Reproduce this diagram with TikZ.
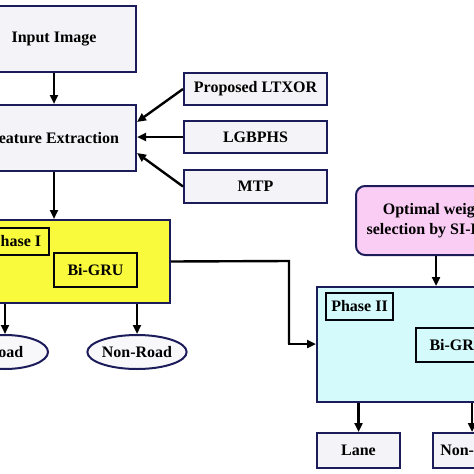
\documentclass[tikz,border=0pt]{standalone}
\usepackage{fontspec}
\setmainfont{Liberation Serif}
\usetikzlibrary{arrows.meta,shapes.geometric}
\definecolor{navy}{RGB}{28,28,90}
\definecolor{boxfill}{RGB}{243,243,248}
\definecolor{yel}{RGB}{250,250,60}
\definecolor{cyanfill}{RGB}{212,250,252}
\definecolor{pinkfill}{RGB}{250,205,245}
\tikzset{
  x=1pt,y=1pt,
  every node/.style={font=\fontsize{16}{18}\selectfont\bfseries, inner sep=0pt},
  plainbox/.style={draw=navy, line width=2pt, fill=boxfill, minimum width=#1, rectangle},
  labelbox/.style={draw=black!85!navy, line width=2.2pt, minimum height=27pt, rectangle},
  oval/.style={ellipse, draw=navy, line width=2pt, fill=boxfill!60!white, minimum width=#1, minimum height=34pt},
  conn/.style={draw=black, line width=2.4pt, -{Triangle[length=9pt,width=8pt]}},
  plainline/.style={draw=black, line width=2.4pt},
}
\begin{document}
\begin{tikzpicture}
\useasboundingbox (0,0) rectangle (474,-474);
\begin{scope}
\clip (0,0) rectangle (474,-474);
% top column
\node[plainbox=164pt, minimum height=66pt] (input) at (54,-39) {Input Image};
\node[plainbox=164pt, minimum height=66pt] (feat) at (54,-138) {Feature Extraction};
\node[plainbox=143pt, minimum height=32pt] (ltxor) at (255.5,-89) {Proposed LTXOR};
\node[plainbox=143pt, minimum height=32pt] (lgb) at (255.5,-137) {LGBPHS};
\node[plainbox=143pt, minimum height=33pt] (mtp) at (255.5,-186.5) {MTP};
% phase I
\node[draw=navy, line width=2pt, fill=yel, minimum width=210pt, minimum height=83pt] (phase1) at (65,-261.5) {};
\node[labelbox, minimum width=66pt] (p1label) at (16,-241.5) {Phase I};
\node[labelbox, minimum width=83pt, minimum height=34pt] (bigru1) at (95.5,-270) {Bi-GRU};
\node[oval=86pt] (road) at (5,-352) {Road};
\node[oval=88pt] (nonroad) at (137,-352) {Non-Road};
% optimal weight
\node[draw=navy, line width=2pt, fill=pinkfill, rounded corners=9pt, minimum width=160pt, minimum height=69pt, align=center] (optimal) at (436,-220.5) {Optimal weight\\[2pt]selection by SI-BRO};
% phase II
\node[draw=navy, line width=2pt, fill=cyanfill, minimum width=243pt, minimum height=115pt] (phase2) at (438.5,-344.5) {};
\node[labelbox, minimum width=67pt] (p2label) at (359.5,-306.5) {Phase II};
\node[labelbox, minimum width=83pt, minimum height=34pt] (bigru2) at (457.5,-345) {Bi-GRU};
\node[plainbox=83pt, minimum height=35pt] (lane) at (358.5,-450.5) {Lane};
\node[plainbox=83pt, minimum height=35pt] (nonlane) at (474.5,-450.5) {Non-Lane};
% connectors
\draw[conn] (input.south) -- (feat.north);
\draw[conn] (feat.south) -- (phase1.north -| feat.south);
\draw[conn] (ltxor.west) -- ([yshift=16pt]feat.east);
\draw[conn] (lgb.west) -- (lgb.west -| feat.east);
\draw[conn] (mtp.west) -- ([yshift=-15pt]feat.east);
\draw[conn] (road.north |- phase1.south) -- (road.north);
\draw[conn] (nonroad.north |- phase1.south) -- (nonroad.north);
\coordinate (c1) at (289,-261);
\coordinate (c2) at (289,-344);
\draw[plainline] (phase1.east) -- (c1) -- (c2);
\draw[conn] ([xshift=-1.2pt]c2) -- (c2 -| phase2.west);
\draw[conn] (optimal.south) -- (phase2.north -| optimal.south);
\draw[conn] (lane.north |- phase2.south) -- (lane.north);
\draw[conn] ([xshift=-2.5pt]nonlane.north |- phase2.south) -- ([xshift=-2.5pt]nonlane.north);
\end{scope}
\end{tikzpicture}
\end{document}
